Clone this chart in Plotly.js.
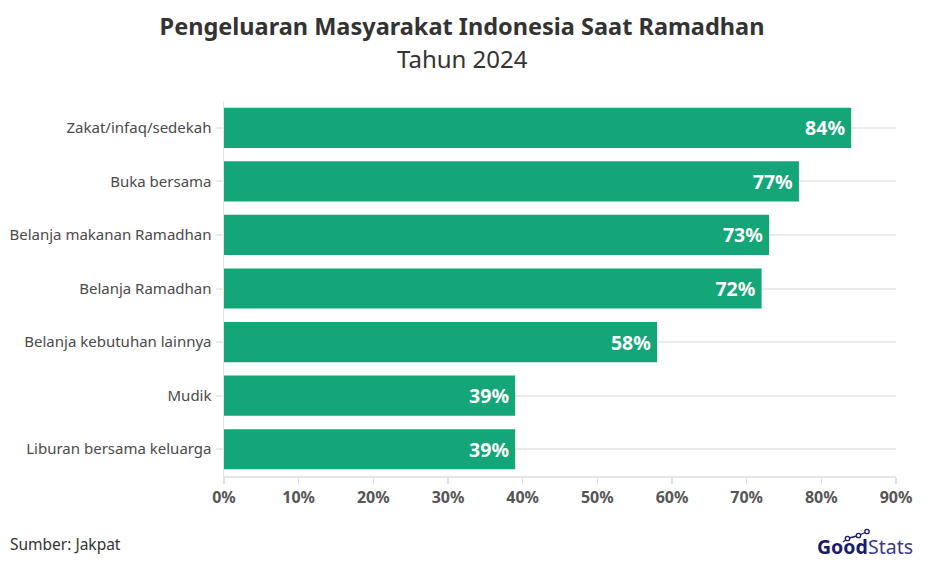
<!DOCTYPE html>
<html><head><meta charset="utf-8">
<script src="https://cdn.plot.ly/plotly-3.0.0.min.js"></script>
<style>html,body{margin:0;padding:0;background:#fff}</style></head>
<body><div id="chart" style="width:925px;height:571px"></div>
<script>
const categories=["Zakat/infaq/sedekah","Buka bersama","Belanja makanan Ramadhan","Belanja Ramadhan","Belanja kebutuhan lainnya","Mudik","Liburan bersama keluarga"];
const values=[84,77,73,72,58,39,39];
const tickVals=[0,10,20,30,40,50,60,70,80,90];
const W=925,H=571;
const M={l:224,r:29,t:101,b:95};
const PW=W-M.l-M.r,PH=H-M.t-M.b;
const F='Noto Sans';
const NAVY='#1c1a6e';
// Logo chain nodes, in picture pixels
const logoNodes=[[847.5,538.5],[858.5,535.5],[867,531.5]];
const px=x=>(x-M.l)/PW, py=y=>1-(y-M.t)/PH;
const logoShapes=[];
const chain=[[843,542]].concat(logoNodes);
for(let i=0;i<chain.length-1;i++){
 logoShapes.push({type:'line',xref:'paper',yref:'paper',layer:'above',x0:px(chain[i][0]),y0:py(chain[i][1]),x1:px(chain[i+1][0]),y1:py(chain[i+1][1]),line:{color:NAVY,width:1.3}});
}
logoNodes.forEach(n=>logoShapes.push({type:'circle',xref:'paper',yref:'paper',layer:'above',x0:px(n[0]-2.2),x1:px(n[0]+2.2),y0:py(n[1]+2.2),y1:py(n[1]-2.2),fillcolor:'#fff',line:{color:NAVY,width:1.3}}));
const note=(x,y,anchor,text,size,color)=>({xref:'paper',yref:'paper',x:px(x),y:py(y),xanchor:anchor,yanchor:'middle',showarrow:false,text,font:{family:F,size,color},borderpad:0,borderwidth:0});
Plotly.newPlot('chart',[{
 type:'bar',orientation:'h',y:categories,x:values,
 marker:{color:'#14a578'},width:0.75,
 text:values.map(v=>v+'%\u2009'),textposition:'inside',insidetextanchor:'end',
 textangle:0,textfont:{family:F,size:19.5,color:'#fff',weight:700},
 cliponaxis:false,hoverinfo:'skip'
}],{
 width:W,height:H,margin:M,
 paper_bgcolor:'#fff',plot_bgcolor:'#fff',showlegend:false,
 font:{family:F,color:'#444'},
 title:{text:'<b>Pengeluaran Masyarakat Indonesia Saat Ramadhan</b>',
  font:{family:F,size:23.5,color:'#333'},x:462/W,xanchor:'center',xref:'container',y:1-27/H,yanchor:'middle',yref:'container'},
 xaxis:{range:[0,90],tickvals:tickVals,ticktext:tickVals.map(v=>v+'%'),showgrid:false,zeroline:false,
  showline:true,linecolor:'#e6e6e6',linewidth:2,ticks:'outside',ticklen:6,tickcolor:'#e0e0e0',tickwidth:1.5,
  tickfont:{family:F,size:16,color:'#555',weight:700}},
 yaxis:{autorange:'reversed',showgrid:true,gridcolor:'#ebebeb',gridwidth:2,zeroline:false,
  showline:true,linecolor:'#e6e6e6',linewidth:1.5,ticks:'outside',ticklen:7,tickwidth:2,tickcolor:'#ebebeb',ticklabelstandoff:1,
  tickfont:{family:F,size:15,color:'#4a4a4a'}},
 shapes:logoShapes,
 annotations:[
  note(462,58.5,'center','Tahun 2024',24,'#333'),
  note(10,544,'left','Sumber: Jakpat',15.5,'#333'),
  note(868,546,'right','<b>Good</b>',19.5,NAVY),
  note(868,546,'left','Stats',19.5,'#3a3a86')
 ]
},{displayModeBar:false,staticPlot:true});
</script></body></html>
